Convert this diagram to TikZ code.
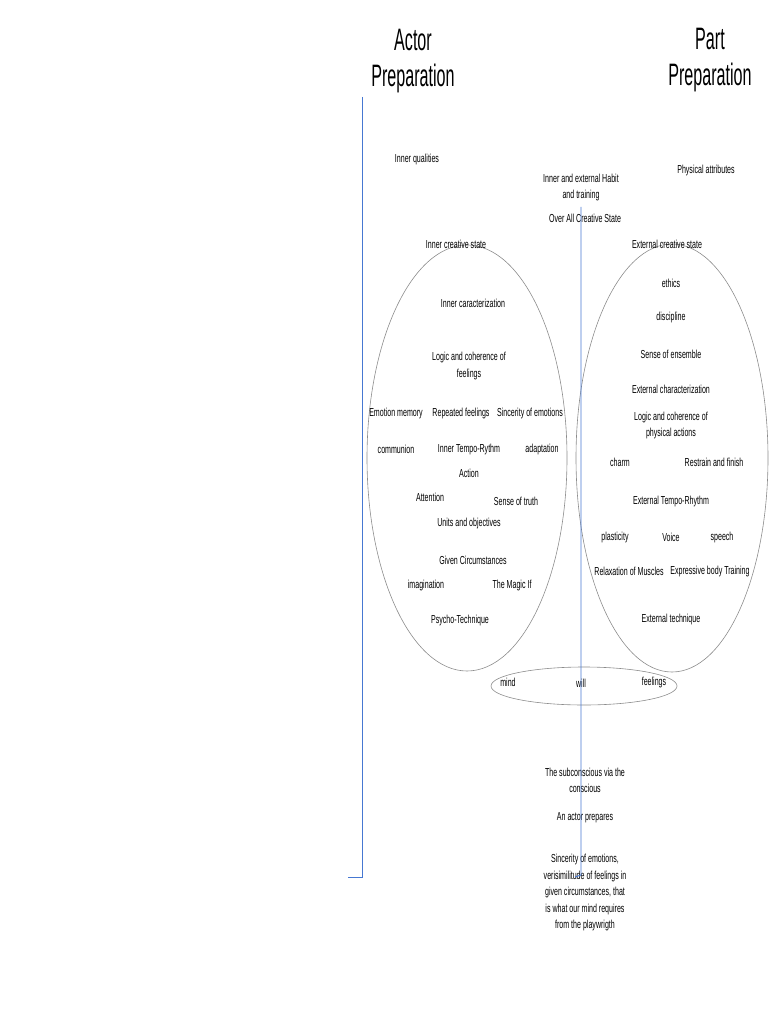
\documentclass[tikz,border=0pt]{standalone}
\usepackage{fontspec}
\setmainfont[FakeStretch=0.61]{Liberation Sans}
\newfontfamily\titlefont[FakeStretch=0.52]{Liberation Sans}
\usetikzlibrary{positioning}
\definecolor{lineblue}{RGB}{70,120,210}
\tikzset{
  lbl/.style={inner sep=0pt, align=center, yshift=-1.8pt, font=\fontsize{11.6}{16.5}\selectfont},
  ttl/.style={inner sep=0pt, align=center, yshift=-3pt, font=\titlefont\fontsize{31}{36}\selectfont},
  oval/.style={draw=gray!90, line width=0.6pt},
  blueline/.style={draw=lineblue, line width=0.9pt}
}
\begin{document}
\begin{tikzpicture}[x=1pt,y=-1pt]
\useasboundingbox (0,0) rectangle (768,1024);
% ellipses
\draw[oval] (467,458) ellipse [x radius=100, y radius=213];
\draw[oval] (672,458) ellipse [x radius=96, y radius=214];
\draw[oval] (584,686) ellipse [x radius=93, y radius=19];
% titles
\node[ttl] (actor) at (413,58) {Actor\\Preparation};
\node[ttl] (part) at (710,57) {Part\\Preparation};
% top labels
\node[lbl] (innerq) at (417,158) {Inner qualities};
\node[lbl] (habit) at (581,185.5) {Inner and external Habit\\and training};
\node[lbl] (phys) at (706,169) {Physical attributes};
\node[lbl] (overall) at (585,217) {Over All Creative State};
\node[lbl] (innercs) at (456,243) {Inner creative state};
\node[lbl] (extcs) at (667,243) {External creative state};
% left ellipse
\node[lbl] (innerchar) at (473,302) {Inner caracterization};
\node[lbl] (logicf) at (469,364) {Logic and coherence of\\feelings};
\node[lbl] (emomem) at (396,412) {Emotion memory};
\node[lbl] (repfeel) at (461,412) {Repeated feelings};
\node[lbl] (sincemo) at (530,412) {Sincerity of emotions};
\node[lbl] (commun) at (396,448) {communion};
\node[lbl] (innertr) at (469,448) {Inner Tempo-Rythm};
\node[lbl] (adapt) at (542,448) {adaptation};
\node[lbl] (action) at (469,472) {Action};
\node[lbl] (attn) at (430,496) {Attention};
\node[lbl] (truth) at (516,500) {Sense of truth};
\node[lbl] (units) at (469,522) {Units and objectives};
\node[lbl] (given) at (473,559) {Given Circumstances};
\node[lbl] (imag) at (426,584) {imagination};
\node[lbl] (magic) at (512,584) {The Magic If};
\node[lbl] (psycho) at (460,619) {Psycho-Technique};
% right ellipse
\node[lbl] (ethics) at (671,282) {ethics};
\node[lbl] (discip) at (671,316) {discipline};
\node[lbl] (ensem) at (671,353) {Sense of ensemble};
\node[lbl] (extchar) at (671,388) {External characterization};
\node[lbl] (logicp) at (671,423.5) {Logic and coherence of\\physical actions};
\node[lbl] (charm) at (620,461) {charm};
\node[lbl] (restrain) at (714,461) {Restrain and finish};
\node[lbl] (exttr) at (671,500) {External Tempo-Rhythm};
\node[lbl] (plast) at (615,536) {plasticity};
\node[lbl] (voice) at (671,536) {Voice};
\node[lbl] (speech) at (722,536) {speech};
\node[lbl] (relax) at (629,570) {Relaxation of Muscles};
\node[lbl] (expr) at (710,570) {Expressive body Training};
\node[lbl] (exttech) at (671,618) {External technique};
% bottom ellipse
\node[lbl] (mind) at (508,681) {mind};
\node[lbl] (will) at (581,681) {will};
\node[lbl] (feel) at (654,681) {feelings};
% bottom texts
\node[lbl] (subc) at (585,778.5) {The subconscious via the\\conscious};
\node[lbl] (prep) at (585,816) {An actor prepares};
\node[lbl] (sinc) at (585,891) {Sincerity of emotions,\\verisimilitude of feelings in\\given circumstances, that\\is what our mind requires\\from the playwrigth};
% blue lines
\coordinate (ltop) at (362,97);
\coordinate (lbot) at (362,877);
\coordinate (lend) at (348,877);
\draw[blueline] (ltop) -- (lbot) -- (lend);
\coordinate (ctop) at (581,207);
\coordinate (cbot) at (581,875);
\coordinate (cend) at (575,877);
\draw[blueline] (ctop) -- (cbot) -- (cend);
\end{tikzpicture}
\end{document}
